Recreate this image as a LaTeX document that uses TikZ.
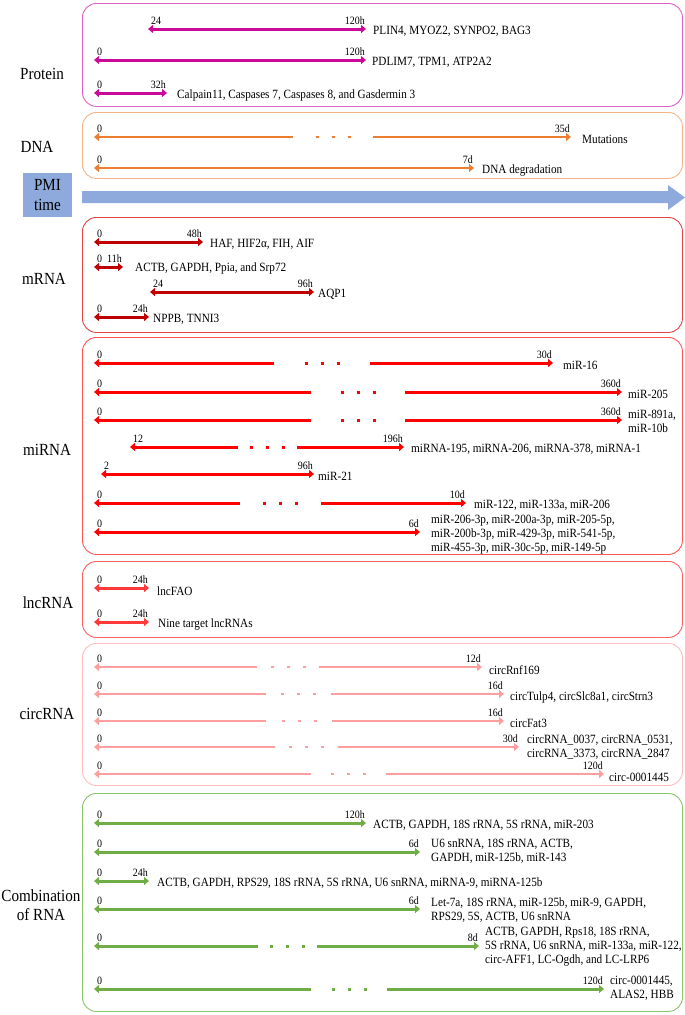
\documentclass[tikz,border=0pt]{standalone}
\usepackage{fontspec}
\setmainfont{Liberation Serif}[FakeStretch=0.89]
\usetikzlibrary{arrows.meta}
\definecolor{protA}{HTML}{CC0A99}
\definecolor{protB}{HTML}{E060C8}
\definecolor{dnaA}{HTML}{ED7D31}
\definecolor{dnaB}{HTML}{F5B487}
\definecolor{mrA}{HTML}{C00000}
\definecolor{mrB}{HTML}{E04646}
\definecolor{miA}{HTML}{FF0000}
\definecolor{miB}{HTML}{FF5555}
\definecolor{lncA}{HTML}{FF3A3A}
\definecolor{lncB}{HTML}{FF6060}
\definecolor{circA}{HTML}{FF9E9E}
\definecolor{circB}{HTML}{FFBDBD}
\definecolor{combA}{HTML}{70AD47}
\definecolor{combB}{HTML}{8CC46A}
\definecolor{pmiC}{HTML}{8EA9DB}
\tikzset{
  grpbox/.style={draw=#1, rounded corners=14pt, line width=0.9pt, anchor=north west, inner sep=0pt},
  lbl/.style={font=\fontsize{11.2}{13}\selectfont, inner sep=0pt},
  item/.style={font=\fontsize{12.6}{14}\selectfont, inner sep=0pt, align=left, anchor=west},
  cat/.style={font=\fontsize{17}{19}\selectfont, inner sep=0pt, align=center},
  ltip/.style={arrows={Triangle[length=5pt,width=8pt]-}},
  rtip/.style={arrows={-Triangle[length=5pt,width=8pt]}},
  btip/.style={arrows={Triangle[length=5pt,width=8pt]-Triangle[length=5pt,width=8pt]}},
  prot/.style={draw=protA, line width=3pt},
  dna/.style={draw=dnaA, line width=2.5pt},
  mr/.style={draw=mrA, line width=3pt},
  mi/.style={draw=miA, line width=3pt},
  lnc/.style={draw=lncA, line width=3pt},
  circ/.style={draw=circA, line width=2.6pt},
  comb/.style={draw=combA, line width=3pt},
}
\newcommand\TArr[7]{%
  \coordinate (#2a) at (#4,#3);
  \coordinate (#2b) at (#5,#3);
  \draw[#1,btip] (#2a) -- (#2b);
  \node[lbl,anchor=base west] (#2l) at ([xshift=3pt,yshift=5pt]#2a) {#6};
  \node[lbl,anchor=base east] (#2r) at ([xshift=-1pt,yshift=5pt]#2b) {#7};
}
\newcommand\TBrk[9]{%
  \coordinate (#2a) at (#4,#3);
  \coordinate (#2b) at (#5,#3);
  \coordinate (#2g) at (#6,#3);
  \coordinate (#2h) at (#7,#3);
  \draw[#1,ltip] (#2a) -- (#2g);
  \draw[#1,rtip] (#2h) -- (#2b);
  \foreach \dx in {-16,0,16}{\draw[#1] ({(#6+#7)/2+\dx-1.5},#3) -- ({(#6+#7)/2+\dx+1.5},#3);}
  \node[lbl,anchor=base west] (#2l) at ([xshift=3pt,yshift=5pt]#2a) {#8};
  \node[lbl,anchor=base east] (#2r) at ([xshift=-1pt,yshift=5pt]#2b) {#9};
}
\begin{document}
\begin{tikzpicture}[x=1pt,y=-1pt]
\useasboundingbox (0,0) rectangle (685,1015);
% group boxes
\node[grpbox=protB, minimum width=600pt, minimum height=103pt] (protBox) at (82,3) {};
\node[grpbox=dnaB, minimum width=600pt, minimum height=66pt] (dnaBox) at (82,112) {};
\node[grpbox=mrB, minimum width=600pt, minimum height=115pt] (mrBox) at (82,217) {};
\node[grpbox=miB, minimum width=600pt, minimum height=217pt] (miBox) at (82,337) {};
\node[grpbox=lncB, minimum width=600pt, minimum height=76pt] (lncBox) at (82,561) {};
\node[grpbox=circB, minimum width=600pt, minimum height=142pt] (circBox) at (82,643) {};
\node[grpbox=combB, minimum width=600pt, minimum height=218pt] (combBox) at (82,793) {};
% category labels
\node[cat] (catProt) at (42,74) {Protein};
\node[cat] (catDna) at (37,147) {DNA};
\node[cat] (catMr) at (44,279) {mRNA};
\node[cat] (catMi) at (47,450) {miRNA};
\node[cat] (catLnc) at (48,603) {lncRNA};
\node[cat] (catCirc) at (47,714) {circRNA};
\node[cat] (catComb) at (41,905) {Combination\\of RNA};
% PMI time
\node[fill=pmiC, minimum width=49pt, minimum height=44pt, inner sep=0pt, align=center,
      font=\fontsize{17}{20}\selectfont] (pmi) at (47.5,195) {PMI\\time};
\fill[pmiC] (82,191) -- (668,191) -- (668,185) -- (685,197.5) -- (668,210) -- (668,203) -- (82,203) -- cycle;
% Protein
\TArr{prot}{P1}{29}{148}{366}{24}{120h}
\node[item] (P1t) at (373,31) {PLIN4, MYOZ2, SYNPO2, BAG3};
\TArr{prot}{P2}{60}{94}{366}{0}{120h}
\node[item] (P2t) at (372,62) {PDLIM7, TPM1, ATP2A2};
\TArr{prot}{P3}{93}{94}{167}{0}{32h}
\node[item] (P3t) at (177,95) {Calpain11, Caspases 7, Caspases 8, and Gasdermin 3};
% DNA
\TBrk{dna}{D1}{137}{94}{571}{293}{373}{0}{35d}
\node[item] (D1t) at (582,139) {Mutations};
\TArr{dna}{D2}{168}{94}{474}{0}{7d}
\node[item] (D2t) at (482,170) {DNA degradation};
% mRNA
\TArr{mr}{M1}{242}{94}{203}{0}{48h}
\node[item] (M1t) at (210,244) {HAF, HIF2α, FIH, AIF};
\TArr{mr}{M2}{267}{94}{123}{0}{11h}
\node[item] (M2t) at (135,268) {ACTB, GAPDH, Ppia, and Srp72};
\TArr{mr}{M3}{292}{150}{314}{24}{96h}
\node[item] (M3t) at (318,294) {AQP1};
\TArr{mr}{M4}{317}{94}{149}{0}{24h}
\node[item] (M4t) at (153,319) {NPPB, TNNI3};
% miRNA
\TBrk{mi}{A1}{363}{94}{553}{274}{370}{0}{30d}
\node[item] (A1t) at (563,365) {miR-16};
\TBrk{mi}{A2}{392}{94}{622}{311}{405}{0}{360d}
\node[item] (A2t) at (628,394) {miR-205};
\TBrk{mi}{A3}{420}{94}{622}{311}{405}{0}{360d}
\node[item] (A3t) at (628,421) {miR-891a,\\miR-10b};
\TBrk{mi}{A4}{447}{130}{404}{238}{297}{12}{196h}
\node[item] (A4t) at (411,449) {miRNA-195, miRNA-206, miRNA-378, miRNA-1};
\TArr{mi}{A5}{474}{101}{314}{2}{96h}
\node[item] (A5t) at (318,476) {miR-21};
\TBrk{mi}{A6}{503}{94}{466}{240}{321}{0}{10d}
\node[item] (A6t) at (474,505) {miR-122, miR-133a, miR-206};
\TArr{mi}{A7}{532}{94}{420}{0}{6d}
\node[item] (A7t) at (431,535) {miR-206-3p, miR-200a-3p, miR-205-5p,\\miR-200b-3p, miR-429-3p, miR-541-5p,\\miR-455-3p, miR-30c-5p, miR-149-5p};
% lncRNA
\TArr{lnc}{L1}{588}{94}{149}{0}{24h}
\node[item] (L1t) at (157,591) {lncFAO};
\TArr{lnc}{L2}{622}{94}{149}{0}{24h}
\node[item] (L2t) at (158,624) {Nine target lncRNAs};
% circRNA
\TBrk{circ}{C1}{667}{94}{482}{257}{319}{0}{12d}
\node[item] (C1t) at (489,670) {circRnf169};
\TBrk{circ}{C2}{694}{94}{504}{266}{331}{0}{16d}
\node[item] (C2t) at (510,697) {circTulp4, circSlc8a1, circStrn3};
\TBrk{circ}{C3}{721}{94}{504}{266}{332}{0}{16d}
\node[item] (C3t) at (510,723) {circFat3};
\TBrk{circ}{C4}{747}{94}{519}{275}{338}{0}{30d}
\node[item] (C4t) at (527,747) {circRNA\_0037, circRNA\_0531,\\circRNA\_3373, circRNA\_2847};
\TBrk{circ}{C5}{774}{94}{604}{311}{386}{0}{120d}
\node[item] (C5t) at (609,777) {circ-0001445};
% Combination of RNA
\TArr{comb}{G1}{823}{94}{366}{0}{120h}
\node[item] (G1t) at (373,825) {ACTB, GAPDH, 18S rRNA, 5S rRNA, miR-203};
\TArr{comb}{G2}{852}{94}{420}{0}{6d}
\node[item] (G2t) at (431,851) {U6 snRNA, 18S rRNA, ACTB,\\GAPDH, miR-125b, miR-143};
\TArr{comb}{G3}{881}{94}{149}{0}{24h}
\node[item] (G3t) at (157,883) {ACTB, GAPDH, RPS29, 18S rRNA, 5S rRNA, U6 snRNA, miRNA-9, miRNA-125b};
\TArr{comb}{G4}{909}{94}{420}{0}{6d}
\node[item] (G4t) at (431,910) {Let-7a, 18S rRNA, miR-125b, miR-9, GAPDH,\\RPS29, 5S, ACTB, U6 snRNA};
\TBrk{comb}{G5}{946}{94}{479}{258}{317}{0}{8d}
\node[item] (G5t) at (485,947) {ACTB, GAPDH, Rps18, 18S rRNA,\\5S rRNA, U6 snRNA, miR-133a, miR-122,\\circ-AFF1, LC-Ogdh, and LC-LRP6};
\TBrk{comb}{G6}{989}{94}{604}{311}{387}{0}{120d}
\node[item] (G6t) at (610,988) {circ-0001445,\\ALAS2, HBB};
\end{tikzpicture}
\end{document}
